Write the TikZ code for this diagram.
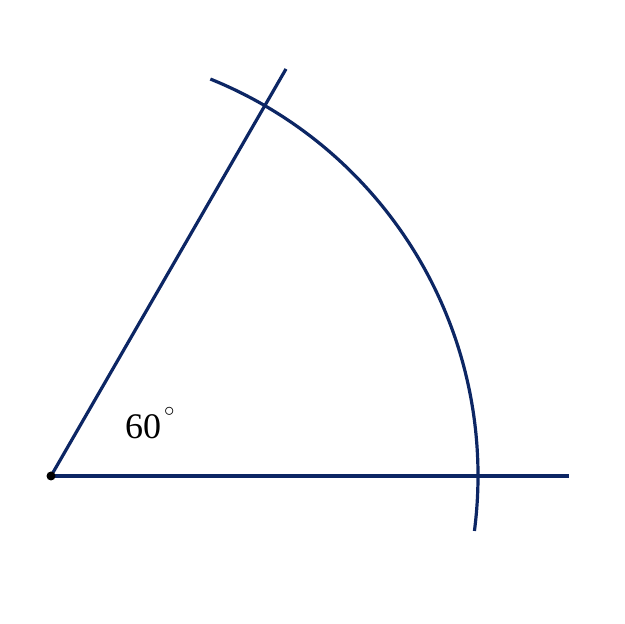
\documentclass[tikz,border=0pt]{standalone}
\usepackage{fontspec}
\setmainfont{Liberation Serif}
\usetikzlibrary{calc}
\definecolor{navy}{RGB}{12,38,100}
\begin{document}
\begin{tikzpicture}[x=1pt,y=1pt,
  ray/.style={draw=navy,line width=3.2pt},
  lbl/.style={font=\fontsize{36}{40}\selectfont,inner sep=0pt}]
\useasboundingbox (0,0) rectangle (624,624);
\coordinate (O) at (51,148);
\coordinate (H) at (569,148);
\coordinate (T) at ($(O)+(60:470)$);
\coordinate (A) at ($(O)+(-7.4:427)$);
\draw[ray] (O) -- (H);
\draw[ray] (O) -- (T);
\draw[ray] (A) arc[start angle=-7.4,end angle=68,radius=428];
\fill[black] (O) circle (4.5);
\node[lbl,anchor=base west] (L) at (125,185) {60\hspace{3pt}\raisebox{22pt}{\fontsize{20}{20}\selectfont$\circ$}};
\end{tikzpicture}
\end{document}
